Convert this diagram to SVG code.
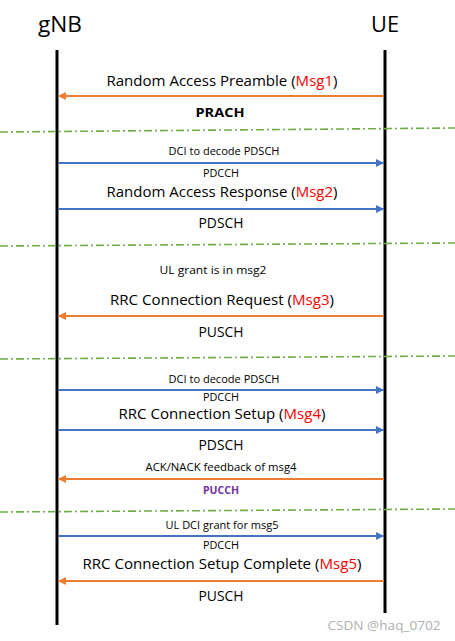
<svg xmlns="http://www.w3.org/2000/svg" width="455" height="641" viewBox="0 0 455 641">
<defs>
<style>
text{font-family:"Open Sans","Liberation Sans",sans-serif;fill:#000;text-anchor:middle}
.big{font-size:15px}
.sm{font-size:11px}
.hdr{font-size:22px}
.red{fill:#FF0000}
.life{stroke:#000;stroke-width:3}
.sep{stroke:#70AD47;stroke-width:1.6;stroke-dasharray:8 3 2 3;fill:none}
.dl{stroke:#4472C4;stroke-width:2;fill:none}
.ul{stroke:#ED7D31;stroke-width:2;fill:none}
</style>
<marker id="ab" viewBox="0 0 10 10" refX="10" refY="5" markerWidth="9" markerHeight="8" markerUnits="userSpaceOnUse" orient="auto"><path d="M0,0 L10,5 L0,10 z" fill="#4472C4"/></marker>
<marker id="ao" viewBox="0 0 10 10" refX="10" refY="5" markerWidth="9" markerHeight="8" markerUnits="userSpaceOnUse" orient="auto"><path d="M0,0 L10,5 L0,10 z" fill="#ED7D31"/></marker>
</defs>
<rect width="455" height="641" fill="#fff"/>
<g id="gNB">
<text class="hdr" x="60" y="32" textLength="44" lengthAdjust="spacingAndGlyphs">gNB</text>
<line class="life" x1="57" y1="50" x2="57" y2="625"/>
</g>
<g id="UE">
<text class="hdr" x="385" y="32" textLength="28" lengthAdjust="spacingAndGlyphs">UE</text>
<line class="life" x1="385" y1="50" x2="385" y2="613"/>
</g>
<g id="separators">
<line class="sep" x1="0" y1="132" x2="455" y2="128"/>
<line class="sep" x1="0" y1="246" x2="455" y2="243"/>
<line class="sep" x1="0" y1="359" x2="455" y2="356"/>
<line class="sep" x1="0" y1="512" x2="455" y2="509"/>
</g>
<g id="connectors">
<line class="ul" x1="384" y1="96" x2="58" y2="96" marker-end="url(#ao)"/>
<line class="dl" x1="58" y1="163" x2="384" y2="163" marker-end="url(#ab)"/>
<line class="dl" x1="58" y1="209" x2="384" y2="209" marker-end="url(#ab)"/>
<line class="ul" x1="384" y1="316" x2="58" y2="316" marker-end="url(#ao)"/>
<line class="dl" x1="58" y1="390" x2="384" y2="390" marker-end="url(#ab)"/>
<line class="dl" x1="58" y1="430" x2="384" y2="430" marker-end="url(#ab)"/>
<line class="ul" x1="384" y1="479" x2="58" y2="479" marker-end="url(#ao)" stroke-width="1.6"/>
<line class="dl" x1="58" y1="536" x2="384" y2="536" marker-end="url(#ab)"/>
<line class="ul" x1="384" y1="581" x2="58" y2="581" marker-end="url(#ao)"/>
</g>
<g id="labels">
<text class="big" x="222" y="86" textLength="231" lengthAdjust="spacingAndGlyphs">Random Access Preamble (<tspan class="red">Msg1</tspan>)</text>
<text x="220" y="117" font-size="13" font-weight="bold" textLength="49" lengthAdjust="spacingAndGlyphs">PRACH</text>
<text class="sm" x="224" y="155" textLength="111" lengthAdjust="spacingAndGlyphs">DCI to decode PDSCH</text>
<text class="sm" x="221" y="177" textLength="36" lengthAdjust="spacingAndGlyphs">PDCCH</text>
<text class="big" x="222" y="197" textLength="231" lengthAdjust="spacingAndGlyphs">Random Access Response (<tspan class="red">Msg2</tspan>)</text>
<text class="big" x="221" y="228" textLength="45" lengthAdjust="spacingAndGlyphs">PDSCH</text>
<text class="sm" x="213" y="274" textLength="107" lengthAdjust="spacingAndGlyphs">UL grant is in msg2</text>
<text class="big" x="222" y="305" textLength="224" lengthAdjust="spacingAndGlyphs">RRC Connection Request (<tspan class="red">Msg3</tspan>)</text>
<text class="big" x="221" y="337" textLength="45" lengthAdjust="spacingAndGlyphs">PUSCH</text>
<text class="sm" x="224" y="383" textLength="111" lengthAdjust="spacingAndGlyphs">DCI to decode PDSCH</text>
<text x="221" y="401" font-size="10" textLength="36" lengthAdjust="spacingAndGlyphs">PDCCH</text>
<text class="big" x="222" y="419" textLength="207" lengthAdjust="spacingAndGlyphs">RRC Connection Setup (<tspan class="red">Msg4</tspan>)</text>
<text class="big" x="221" y="450" textLength="45" lengthAdjust="spacingAndGlyphs">PDSCH</text>
<text class="sm" x="221" y="471" textLength="151" lengthAdjust="spacingAndGlyphs">ACK/NACK feedback of msg4</text>
<text x="221" y="494" font-size="11" font-weight="bold" style="fill:#7030A0" textLength="36" lengthAdjust="spacingAndGlyphs">PUCCH</text>
<text class="sm" x="222" y="529" textLength="113" lengthAdjust="spacingAndGlyphs">UL DCI grant for msg5</text>
<text class="sm" x="221" y="549" textLength="36" lengthAdjust="spacingAndGlyphs">PDCCH</text>
<text class="big" x="222" y="569" textLength="279" lengthAdjust="spacingAndGlyphs">RRC Connection Setup Complete (<tspan class="red">Msg5</tspan>)</text>
<text class="big" x="221" y="601" textLength="45" lengthAdjust="spacingAndGlyphs">PUSCH</text>
</g>
<text x="384" y="630" font-size="13" style="fill:#B0B0B0" textLength="113" lengthAdjust="spacingAndGlyphs">CSDN @haq_0702</text>
</svg>
